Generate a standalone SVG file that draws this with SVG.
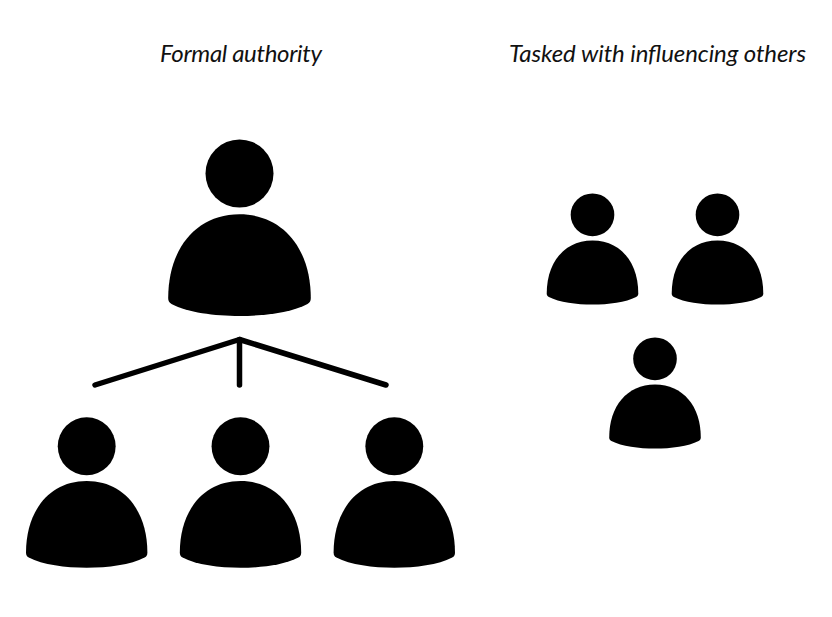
<svg xmlns="http://www.w3.org/2000/svg" width="832" height="617" viewBox="0 0 832 617">
<style>
.t{font-family:"Lato","Noto Sans",sans-serif;font-style:italic;font-size:24px;fill:#111}
.c{fill:none;stroke:#000;stroke-width:5.500;stroke-linecap:round;stroke-linejoin:round}
</style>
<defs>
<g id="person">
<circle cx="0" cy="0" r="34"/>
<path d="M-71.3 124.5C-71.3 76 -44 40.800 0 40.800C44 40.800 71.3 76 71.3 124.5C71.3 127.500 70.500 129 68 130.500C52 139 25 142.5 0 142.5C-25 142.5 -52 139 -68 130.500C-70.500 129 -71.3 127.500 -71.3 124.5Z"/>
</g>
<filter id="soft" x="-10%" y="-10%" width="120%" height="120%"><feGaussianBlur stdDeviation="0.7"/></filter>
</defs>
<rect width="832" height="617" fill="#fff"/>
<text id="label-formal" class="t" x="160" y="62" textLength="162" lengthAdjust="spacing">Formal authority</text>
<text id="label-tasked" class="t" x="509" y="62" textLength="297" lengthAdjust="spacing">Tasked with influencing others</text>
<g id="connectors">
<path class="c" d="M95 385L239.5 339.500L386 385"/>
<path class="c" d="M239.500 339.500V385"/>
</g>
<g id="boss"><use href="#person" transform="translate(239.5 173.500)"/></g>
<g id="report-1"><use href="#person" transform="translate(86.700 446.300) scale(.851 .853)"/></g>
<g id="report-2"><use href="#person" transform="translate(240.500 446.300) scale(.851 .853)"/></g>
<g id="report-3"><use href="#person" transform="translate(394.300 446.300) scale(.851 .853)"/></g>
<g id="influencer-1" filter="url(#soft)"><use href="#person" transform="translate(592.500 214.800) scale(.642 .63)"/></g>
<g id="influencer-2" filter="url(#soft)"><use href="#person" transform="translate(717.500 214.800) scale(.642 .63)"/></g>
<g id="influencer-3" filter="url(#soft)"><use href="#person" transform="translate(655 358.800) scale(.642 .63)"/></g>
</svg>
